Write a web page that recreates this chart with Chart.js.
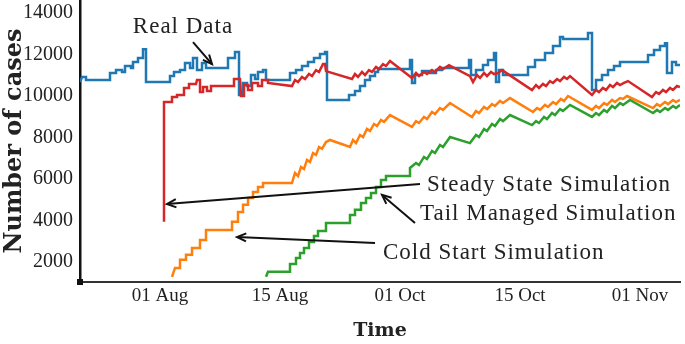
<!DOCTYPE html>
<html>
<head>
<meta charset="utf-8">
<script src="https://cdn.jsdelivr.net/npm/chart.js@4.4.1/dist/chart.umd.min.js"></script>
<style>
  html, body { margin: 0; padding: 0; background: #fff; }
  #wrap { width: 685px; height: 344px; }
</style>
</head>
<body>
<div id="wrap"><canvas id="casesChart" width="685" height="344"></canvas></div>
<script>
// x is a day index, only five days carry a name on the axis
const tickDays = [30, 60, 90, 120, 150];
const tickLabels = ['01 Aug', '15 Aug', '01 Oct', '15 Oct', '01 Nov'];
const caseTicks = [2000, 4000, 6000, 8000, 10000, 12000, 14000];

// [day, cases]
const realData = [
  [10,10670],[10.5,10920],[11.5,10920],[11.5,10770],[17.5,10770],[17.5,11110],[19,11110],[19,11250],
  [20.5,11250],[20.5,11160],[21.25,11160],[21.25,11450],[22.75,11450],[22.75,11350],[23.25,11350],
  [23.25,11640],[24.5,11640],[24.5,11830],[25.75,11830],[25.75,12260],[26.5,12260],[26.5,10670],
  [32.5,10670],[32.5,10960],[33.5,10960],[33.5,11160],[35,11160],[35,11250],[36.25,11250],[36.25,11590],
  [37.5,11590],[37.5,11350],[38.25,11350],[38.25,11830],[39.25,11830],[39.25,11250],[40.5,11250],
  [40.5,11590],[41.5,11590],[41.5,11350],[47,11350],[47,11830],[48.75,11830],[48.75,12120],[49.75,12120],
  [49.75,10050],[50.75,10050],[50.75,10630],[51.75,10630],[51.75,10480],[52.75,10480],[52.75,11010],
  [53.75,11010],[53.75,10820],[54.5,10820],[54.5,11160],[55.75,11160],[55.75,11250],[56.5,11250],
  [56.5,10770],[62.5,10770],[62.5,11110],[64,11110],[64,11250],[65.5,11250],[65.5,11450],[67,11450],
  [67,11640],[68.5,11640],[68.5,11830],[70,11830],[70,12020],[71.25,12020],[71.25,12120],[71.75,12120],
  [71.75,9810],[77.25,9810],[77.25,10050],[78.75,10050],[78.75,10240],[80,10240],[80,10480],[81.25,10480],
  [81.25,10770],[82.5,10770],[82.5,10960],[83.75,10960],[83.75,11160],[84.5,11160],[84.5,11300],
  [92.5,11300],[92.5,11740],[93,11740],[93,10630],[93.75,10630],[93.75,11010],[95.5,11010],[95.5,11200],
  [97.5,11200],[97.5,11110],[99,11110],[99,11250],[100.5,11250],[100.5,11350],[107.25,11350],
  [107.25,11740],[107.75,11740],[107.75,11010],[109,11010],[109,11250],[110.75,11250],[110.75,11490],
  [112,11490],[112,11740],[113.5,11740],[113.5,12070],[114,12070],[114,10670],[114.75,10670],
  [114.75,11250],[115.75,11250],[115.75,11010],[122,11010],[122,11400],[123.75,11400],[123.75,11740],
  [126.25,11740],[126.25,12070],[128.25,12070],[128.25,12410],[130,12410],[130,12840],[130.75,12840],
  [130.75,12750],[137,12750],[137,13040],[138,13040],[138,10290],[139,10290],[139,10770],[140.5,10770],
  [140.5,11010],[142,11010],[142,11250],[143.5,11250],[143.5,11450],[145,11450],[145,11640],[152,11640],
  [152,11980],[153.5,11980],[153.5,12220],[155,12220],[155,12410],[156.25,12410],[156.25,12550],
  [156.75,12550],[156.75,11110],[158,11110],[158,11640],[159,11640],[159,11490],[160,11490]
];

const steadyState = [
  [31,3930],[31,9710],[33,9710],[33,9950],[34.25,9950],[34.25,10050],[36,10050],[36,10390],[37.25,10390],
  [37.25,10580],[39,10580],[39.25,10770],[40,10770],[40,10190],[40.75,10190],[40.75,10430],[41.75,10430],
  [41.75,10240],[42.75,10240],[42.75,10480],[48.5,10480],[48.5,10820],[50,10820],[50.25,10000],[51,10000],
  [51,10530],[52,10530],[52,10290],[53,10290],[53,10630],[54.5,10630],[54.5,10480],[55.5,10480],
  [55.5,10770],[57,10770],[57,10630],
  [63,10480],[63.75,10770],[64.5,10670],[65.5,10920],[66.25,10820],[67.25,11060],[68,10960],[69,11250],
  [69.75,11160],[70.75,11540],[71.25,11540],[71.5,11200],
  [78,10820],[78.75,11060],[79.5,10920],[80.5,11160],[81.25,11010],[82.25,11250],[83,11160],[84,11400],
  [84.75,11300],[85.75,11540],[86.5,11450],[87.5,11690],
  [93,10870],[94,11110],[94.75,10960],[96,11160],[96.75,11060],[98,11250],[98.75,11160],[100,11400],
  [100.75,11300],[102.25,11490],
  [107.5,10960],[108.25,10670],[109.25,11010],[110,10870],[111,11110],[111.75,10960],[112.75,11160],
  [113.5,11060],[114.5,11110],[115.5,11250],
  [123,10290],[124,10530],[124.75,10390],[125.75,10580],[126.5,10480],[127.5,10720],[128.25,10630],
  [129.25,10820],[130,10720],[131,10920],[131.75,10820],[132.5,10960],
  [138,10050],[139,10290],[139.75,10190],[140.75,10390],[141.5,10290],[142.5,10530],[143.25,10430],
  [144.25,10630],[145,10530],[146,10630],[147,10720],
  [153,9950],[154,10190],[154.75,10100],[155.75,10290],[156.5,10190],[157.5,10390],[158.25,10290],
  [159.25,10480],[160,10430]
];

const coldStart = [
  [33,1280],[33.75,1710],[35,1710],[35,2100],[36.5,2100],[36.5,2340],[38,2340],[38,2670],[40,2670],
  [40,3060],[41.5,3060],[41.5,3540],[48,3540],[48,3930],[49.5,3930],[49.5,4410],[50.75,4410],[50.75,4750],
  [52,4750],[52,5080],[53.25,5080],[53.25,5370],[54.5,5370],[54.5,5610],[55.75,5610],[55.75,5810],[63,5810],
  [63.75,6290],[64.5,6140],[65.25,6580],[66,6480],[66.75,6920],[67.5,6820],[68.25,7250],[69,7160],
  [69.75,7540],[70.5,7450],[71.5,7780],[72.5,7880],
  [77.5,7540],[78.25,7880],[79,7730],[80,8120],[80.75,8020],[81.75,8410],[82.5,8310],[83.5,8650],
  [84.25,8550],[85.25,8840],[86,8750],[87.5,9080],
  [93,8510],[94,8790],[94.75,8700],[96,8990],[96.75,8890],[98,9230],[98.75,9130],[100,9420],[100.75,9330],
  [102.5,9660],
  [108,8990],[109,9280],[109.75,9180],[111,9470],[111.75,9370],[113,9610],[113.75,9520],[115,9760],
  [115.75,9660],[117.5,9900],
  [123.25,9230],[124.25,9420],[125,9330],[126.25,9570],[127,9470],[128.25,9710],[129,9610],[130.25,9860],
  [131,9760],[132,10000],
  [138,9330],[139,9520],[139.75,9420],[141,9660],[141.75,9570],[143,9810],[143.75,9710],[145,9900],
  [145.75,9860],[146.75,10000],
  [153.25,9420],[154.25,9610],[155,9520],[156.25,9710],[157,9610],[158.25,9810],[159,9710],[160,9810]
];

const tailManaged = [
  [56.5,1280],[57,1520],[62.5,1520],[62.5,1900],[64,1900],[64,2190],[65,2190],[65,2430],[66,2430],
  [66,2670],[67.25,2670],[67.25,2960],[68.5,2960],[68.5,3250],[69.5,3250],[69.5,3490],[71.5,3490],
  [71.5,3880],[77.5,3880],[77.5,4260],[78.75,4260],[78.75,4510],[80.25,4510],[80.25,4840],[81.5,4840],
  [81.5,5080],[82.75,5080],[82.75,5320],[84,5320],[84,5610],[85.25,5610],[85.25,5950],[86.5,5950],
  [86.5,6140],[92.5,6140],[92.5,6530],
  [94,6770],[94.75,6670],[96,7060],[96.75,6960],[98,7350],[98.75,7250],[100,7640],[100.75,7540],[102.5,8020],
  [107.5,7730],[109,8120],[109.75,8020],[111,8410],[111.75,8310],[113,8650],[113.75,8550],[115,8890],
  [115.75,8790],[117.5,9080],
  [123,8600],[124,8790],[124.75,8700],[126,8990],[126.75,8890],[128,9180],[128.75,9080],[130,9370],
  [130.75,9280],[132.5,9570],
  [138,8990],[139,9180],[139.75,9080],[141,9330],[141.75,9230],[143,9520],[143.75,9420],[145,9660],
  [145.75,9570],[147.5,9810],
  [153.25,9180],[154.25,9330],[155,9230],[156.25,9420],[157,9330],[158.25,9520],[159,9420],[160,9570]
];

// labels and arrows, placed in data units
const notes = [
  { text: 'Real Data', x: 35.75, y: 13040, align: 'center' },
  { text: 'Steady State Simulation', x: 96.75, y: 5420, align: 'left' },
  { text: 'Tail Managed Simulation', x: 95, y: 4020, align: 'left' },
  { text: 'Cold Start Simulation', x: 85.75, y: 2140, align: 'left' }
];
const arrows = [
  { from: [38.25, 12600], to: [43, 11540] },
  { from: [95, 5760], to: [31.75, 4790] },
  { from: [93.75, 3880], to: [85.5, 5230] },
  { from: [83.75, 2910], to: [49.25, 3200] }
];

const toPoints = pairs => pairs.map(([x, y]) => ({ x, y }));

const annotate = {
  id: 'annotate',
  afterDatasetsDraw(chart) {
    const { ctx, chartArea } = chart;
    const xs = chart.scales.x, ys = chart.scales.y;
    ctx.save();
    ctx.strokeStyle = '#111';
    ctx.lineWidth = 2;
    arrows.forEach(a => {
      const x0 = xs.getPixelForValue(a.from[0]), y0 = ys.getPixelForValue(a.from[1]);
      const x1 = xs.getPixelForValue(a.to[0]), y1 = ys.getPixelForValue(a.to[1]);
      const ang = Math.atan2(y1 - y0, x1 - x0);
      ctx.beginPath();
      ctx.moveTo(x0, y0);
      ctx.lineTo(x1, y1);
      ctx.stroke();
      ctx.beginPath();
      ctx.moveTo(x1 - 10 * Math.cos(ang - 0.42), y1 - 10 * Math.sin(ang - 0.42));
      ctx.lineTo(x1, y1);
      ctx.lineTo(x1 - 10 * Math.cos(ang + 0.42), y1 - 10 * Math.sin(ang + 0.42));
      ctx.stroke();
    });
    ctx.fillStyle = '#222';
    ctx.font = '23px "Liberation Serif"';
    ctx.letterSpacing = '1px';
    ctx.textBaseline = 'alphabetic';
    notes.forEach(n => {
      ctx.textAlign = n.align;
      ctx.fillText(n.text, xs.getPixelForValue(n.x), ys.getPixelForValue(n.y));
    });
    // little square where the axes meet
    ctx.fillStyle = '#111';
    ctx.fillRect(chartArea.left - 3, chartArea.bottom - 3, 6, 6);
    ctx.restore();
  }
};

const line = (label, pairs, color) => ({
  label,
  data: toPoints(pairs),
  borderColor: color,
  borderWidth: 2.5,
  pointRadius: 0,
  fill: false,
  tension: 0
});

const ctx = document.getElementById('casesChart').getContext('2d');
const casesChart = new Chart(ctx, {
  type: 'line',
  data: {
    datasets: [
      line('Steady State Simulation', steadyState, '#d62728'),
      line('Tail Managed Simulation', tailManaged, '#2ca02c'),
      line('Cold Start Simulation', coldStart, '#ff7f0e'),
      line('Real Data', realData, '#1f77b4')
    ]
  },
  options: {
    responsive: false,
    animation: false,
    devicePixelRatio: 1,
    layout: { padding: { top: 0, right: 5, bottom: 0, left: 0 } },
    plugins: {
      legend: { display: false },
      tooltip: { enabled: false }
    },
    scales: {
      x: {
        type: 'linear',
        min: 10,
        max: 160,
        grid: { display: false, drawTicks: false },
        border: { display: true, color: '#333', width: 2 },
        ticks: {
          autoSkip: false,
          maxRotation: 0,
          padding: 3,
          color: '#222',
          font: { family: 'Liberation Serif', size: 19 },
          callback: (v, i) => tickLabels[i]
        },
        afterBuildTicks: s => { s.ticks = tickDays.map(v => ({ value: v })); },
        afterFit: s => { s.height = 62; s.paddingLeft = 0; s.paddingRight = 0; },
        title: {
          display: true,
          text: 'Time',
          color: '#222',
          font: { family: 'DejaVu Serif', weight: 'bold', size: 19 },
          padding: { top: 0, bottom: 2 }
        }
      },
      y: {
        min: 1030,
        max: 14630,
        grid: { display: false, drawTicks: false },
        border: { display: true, color: '#111', width: 2.5 },
        ticks: {
          padding: 7,
          color: '#222',
          font: { family: 'Liberation Serif', size: 20 },
          callback: v => String(v)
        },
        afterBuildTicks: s => { s.ticks = caseTicks.map(v => ({ value: v })); },
        afterFit: s => { s.width = 80; s.paddingTop = 0; s.paddingBottom = 0; },
        title: {
          display: true,
          text: 'Number of cases',
          color: '#222',
          font: { family: 'DejaVu Serif', weight: 'bold', size: 24 },
          padding: { top: 0, bottom: 0 }
        }
      }
    }
  },
  plugins: [annotate]
});
</script>
</body>
</html>
